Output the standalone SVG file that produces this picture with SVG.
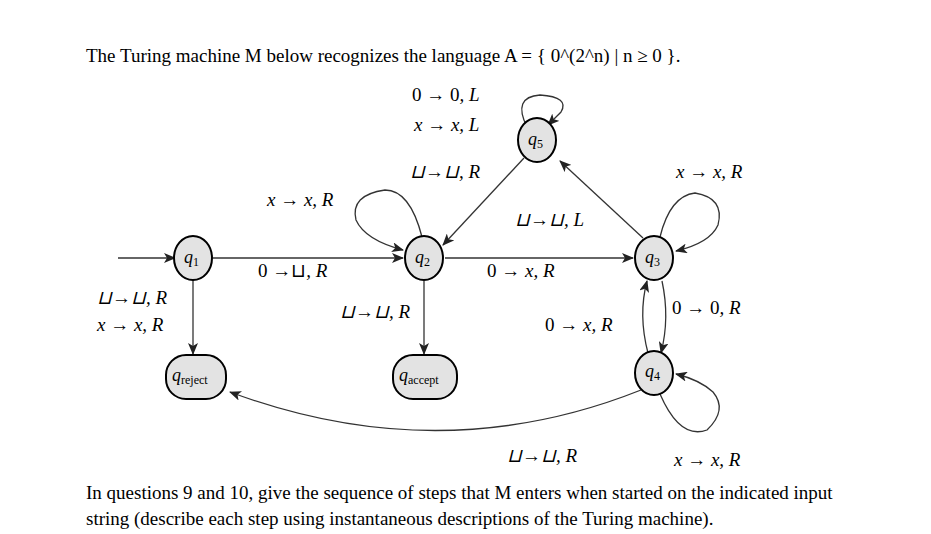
<svg xmlns="http://www.w3.org/2000/svg" width="931" height="534" viewBox="0 0 931 534">
<style>
.t{font-family:"Liberation Serif",serif;font-size:19px;fill:#000}
.l{font-family:"Liberation Serif",serif;font-size:19px;font-style:italic;fill:#000}
.n{fill:#e3e3e3;stroke:#000;stroke-width:2}
.e{fill:none;stroke:#333;stroke-width:1.3;marker-end:url(#a)}
.s{font-family:"Liberation Serif",serif;font-size:18px;font-style:italic}
.sub{font-size:12px;font-style:normal}
</style>
<defs><marker id="a" viewBox="0 0 12 10" refX="11" refY="5" markerWidth="12" markerHeight="10" markerUnits="userSpaceOnUse" orient="auto"><path d="M0,0 L12,5 L0,10 L3,5 z" fill="#222"/></marker></defs>
<rect width="931" height="534" fill="#fff"/>
<text class="t" x="86" y="62">The Turing machine M below recognizes the language A = { 0^(2^n) | n ≥ 0 }.</text>
<text class="t" x="86" y="499">In questions 9 and 10, give the sequence of steps that M enters when started on the indicated input</text>
<text class="t" x="86" y="525">string (describe each step using instantaneous descriptions of the Turing machine).</text>
<g id="edges">
<path class="e" d="M118,258 H175"/>
<path class="e" d="M213,258 H403"/>
<path class="e" d="M445,258 H633"/>
<path class="e" d="M193,280 V354"/>
<path class="e" d="M424,281 V354"/>
<path class="e" d="M524,158 L443,245"/>
<path class="e" d="M643,238 L560,161"/>
<path class="e" d="M648,353 Q638,315 647,281"/>
<path class="e" d="M662,281 Q670,318 661,353"/>
<path class="e" d="M641,390 Q440,470 230,392"/>
<path class="e" d="M422,237 Q410,190 385,190 Q350,195 356,220 Q365,240 403,250"/>
<path class="e" d="M660,237 Q670,196 695,193 Q725,198 718,225 Q710,243 676,251"/>
<path class="e" d="M660,394 Q680,440 707,430 Q728,410 713,392 Q700,380 676,374"/>
<path class="e" d="M527,127 Q512,97 540,95 Q570,97 561,112 Q555,118 548,125"/>
</g>
<g id="labels" class="l">
<text x="412" y="101"><tspan font-style="normal">0 → 0</tspan>, L</text>
<text x="414" y="131">x → x, L</text>
<text x="410" y="178">⊔→⊔, R</text>
<text x="267" y="206">x → x, R</text>
<text x="515" y="226">⊔→⊔, L</text>
<text x="676" y="178">x → x, R</text>
<text x="258" y="277"><tspan font-style="normal">0 →⊔</tspan>, R</text>
<text x="487" y="277"><tspan font-style="normal">0 →</tspan> x, R</text>
<text x="97" y="304">⊔→⊔, R</text>
<text x="97" y="331">x → x, R</text>
<text x="340" y="318">⊔→⊔, R</text>
<text x="545" y="331"><tspan font-style="normal">0 →</tspan> x, R</text>
<text x="672" y="314"><tspan font-style="normal">0 → 0</tspan>, R</text>
<text x="507" y="462">⊔→⊔, R</text>
<text x="674" y="466">x → x, R</text>
</g>
<g id="q1"><ellipse class="n" cx="193" cy="258" rx="19" ry="22"/><text class="s" x="184" y="263">q<tspan class="sub" dy="3">1</tspan></text></g>
<g id="q2"><ellipse class="n" cx="424" cy="258" rx="19" ry="22"/><text class="s" x="415" y="263">q<tspan class="sub" dy="3">2</tspan></text></g>
<g id="q3"><ellipse class="n" cx="654" cy="258" rx="19" ry="22"/><text class="s" x="645" y="263">q<tspan class="sub" dy="3">3</tspan></text></g>
<g id="q4"><ellipse class="n" cx="654" cy="373" rx="19" ry="22"/><text class="s" x="645" y="377">q<tspan class="sub" dy="3">4</tspan></text></g>
<g id="q5"><ellipse class="n" cx="537" cy="140" rx="19" ry="22"/><text class="s" x="528" y="145">q<tspan class="sub" dy="3">5</tspan></text></g>
<g id="qreject"><rect class="n" x="166" y="355" width="60" height="44" rx="20"/><text class="s" x="172" y="381">q<tspan class="sub" dy="3">reject</tspan></text></g>
<g id="qaccept"><rect class="n" x="393" y="355" width="64" height="44" rx="20"/><text class="s" x="399" y="381">q<tspan class="sub" dy="3">accept</tspan></text></g>
</svg>
